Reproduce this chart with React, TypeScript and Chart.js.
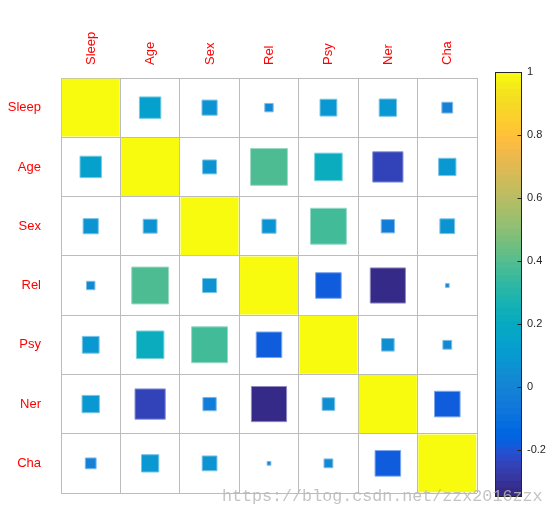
import React, { useEffect, useRef } from "react";
import { Chart, registerables } from "chart.js";

Chart.register(...registerables);

// ---- data ----
const variables = ["Sleep", "Age", "Sex", "Rel", "Psy", "Ner", "Cha"];
const sleepRow = [1, 0.13, 0.065, 0.02, 0.08, 0.085, -0.033];
const ageRow = [0.13, 1, 0.055, 0.385, 0.215, -0.26, 0.085];
const sexRow = [0.065, 0.055, 1, 0.056, 0.365, -0.05, 0.062];
const relRow = [0.02, 0.385, 0.056, 1, -0.185, -0.35, 0.004];
const psyRow = [0.08, 0.215, 0.365, -0.185, 1, 0.045, 0.022];
const nerRow = [0.085, -0.26, -0.05, -0.35, 0.045, 1, -0.185];
const chaRow = [-0.033, 0.085, 0.062, 0.004, 0.022, -0.185, 1];
const colorbarTicks = [-0.2, 0, 0.2, 0.4, 0.6, 0.8, 1];
const colorMin = -0.35;
const colorMax = 1;
const watermark = "https://blog.csdn.net/zzx2016zzx";

// MATLAB parula colormap (64 entries)
const PARULA: number[][] = [
  [0.2081, 0.1663, 0.5292], [0.2116, 0.1898, 0.5777], [0.2123, 0.2138, 0.627], [0.2081, 0.2386, 0.6771],
  [0.1959, 0.2645, 0.7279], [0.1707, 0.2919, 0.7792], [0.1253, 0.3242, 0.8303], [0.0591, 0.3598, 0.8683],
  [0.0117, 0.3875, 0.882], [0.006, 0.4086, 0.8828], [0.0165, 0.4266, 0.8786], [0.0329, 0.443, 0.872],
  [0.0498, 0.4586, 0.8641], [0.0629, 0.4737, 0.8554], [0.0723, 0.4887, 0.8467], [0.0779, 0.504, 0.8384],
  [0.0793, 0.52, 0.8312], [0.0749, 0.5375, 0.8263], [0.0641, 0.557, 0.824], [0.0488, 0.5772, 0.8228],
  [0.0343, 0.5966, 0.8199], [0.0265, 0.6137, 0.8135], [0.0239, 0.6287, 0.8038], [0.0231, 0.6418, 0.7913],
  [0.0228, 0.6535, 0.7768], [0.0267, 0.6642, 0.7607], [0.0384, 0.6743, 0.7436], [0.059, 0.6838, 0.7254],
  [0.0843, 0.6928, 0.7062], [0.1133, 0.7015, 0.6859], [0.1453, 0.7098, 0.6646], [0.1801, 0.7177, 0.6424],
  [0.2178, 0.725, 0.6193], [0.2586, 0.7317, 0.5954], [0.3022, 0.7376, 0.5712], [0.3482, 0.7424, 0.5473],
  [0.3953, 0.7459, 0.5244], [0.442, 0.7481, 0.5033], [0.4871, 0.7491, 0.484], [0.53, 0.7491, 0.4661],
  [0.5709, 0.7485, 0.4494], [0.6099, 0.7473, 0.4337], [0.6473, 0.7456, 0.4188], [0.6834, 0.7435, 0.4044],
  [0.7184, 0.7411, 0.3905], [0.7525, 0.7384, 0.3768], [0.7858, 0.7356, 0.3633], [0.8185, 0.7327, 0.3498],
  [0.8507, 0.7299, 0.336], [0.8824, 0.7274, 0.3217], [0.9139, 0.7258, 0.3063], [0.945, 0.7261, 0.2886],
  [0.9739, 0.7314, 0.2666], [0.9938, 0.7455, 0.2403], [0.999, 0.7653, 0.2164], [0.9955, 0.7861, 0.1967],
  [0.988, 0.8066, 0.1794], [0.9789, 0.8271, 0.1633], [0.9697, 0.8481, 0.1475], [0.9626, 0.8705, 0.1309],
  [0.9589, 0.8949, 0.1132], [0.9598, 0.9218, 0.0948], [0.9661, 0.9514, 0.0755], [0.9763, 0.9831, 0.0538],
];

const rgb = (c: number[], mixWhite = 0) =>
  `rgb(${c.map((x) => Math.round((x * (1 - mixWhite) + mixWhite) * 255)).join(",")})`;

const colorIndex = (v: number) =>
  Math.max(0, Math.min(63, Math.floor(((v - colorMin) / (colorMax - colorMin)) * 64)));

const FONT = "'Liberation Sans', Arial, sans-serif";
const GRID = "#bcbcbc";
const AXIS_DARK = "#262626";

export default function App() {
  const mainRef = useRef<HTMLCanvasElement>(null);
  const barRef = useRef<HTMLCanvasElement>(null);

  useEffect(() => {
    const rows = [sleepRow, ageRow, sexRow, relRow, psyRow, nerRow, chaRow];
    const points: { x: number; y: number; v: number }[] = [];
    rows.forEach((row, i) => row.forEach((v, j) => points.push({ x: j, y: i, v })));

    const halfTicks = (scale: any) => {
      const t: { value: number }[] = [];
      for (let k = -1; k <= 13; k++) t.push({ value: k / 2 });
      scale.ticks = t;
    };
    const labelCb = (value: any) => {
      const v = Number(value);
      return Number.isInteger(v) ? variables[v] : "";
    };
    const gridColor = (ctx: any) =>
      ctx.tick && !Number.isInteger(ctx.tick.value) ? GRID : "rgba(0,0,0,0)";

    const cellSide = (chart: any) => {
      const xs = chart.scales.x;
      return Math.abs(xs.getPixelForValue(1) - xs.getPixelForValue(0));
    };

    const main = new Chart(mainRef.current!, {
      type: "scatter",
      data: {
        datasets: [
          {
            data: points as any,
            pointStyle: "rect",
            radius: (ctx: any) => {
              const raw = ctx.raw;
              if (!raw || !ctx.chart.chartArea) return 0;
              const cell = cellSide(ctx.chart);
              const side = raw.x === raw.y ? cell - 1.5 : cell * Math.sqrt(Math.abs(raw.v));
              return side / Math.SQRT2;
            },
            backgroundColor: (ctx: any) => (ctx.raw ? rgb(PARULA[colorIndex(ctx.raw.v)]) : "#000"),
            borderColor: (ctx: any) => (ctx.raw ? rgb(PARULA[colorIndex(ctx.raw.v)], 0.45) : "#000"),
            borderWidth: (ctx: any) => (ctx.raw && ctx.raw.x !== ctx.raw.y ? 1 : 0),
          } as any,
        ],
      },
      options: {
        animation: false,
        responsive: false,
        events: [],
        layout: { padding: { left: 0, top: 0, right: 77, bottom: 24 } },
        plugins: { legend: { display: false }, tooltip: { enabled: false } },
        scales: {
          x: {
            type: "linear",
            position: "top",
            min: -0.5,
            max: 6.5,
            afterBuildTicks: halfTicks,
            afterFit: (s: any) => {
              s.height = 78;
              s.paddingLeft = 0;
              s.paddingRight = 0;
            },
            ticks: {
              autoSkip: false,
              minRotation: 90,
              maxRotation: 90,
              padding: 13,
              labelOffset: 16,
              color: "red",
              font: { family: FONT, size: 13 },
              callback: labelCb,
            },
            grid: { color: gridColor, drawTicks: false, lineWidth: 1 },
            border: { display: false },
          },
          y: {
            type: "linear",
            position: "left",
            min: -0.5,
            max: 6.5,
            reverse: true,
            afterBuildTicks: halfTicks,
            afterFit: (s: any) => {
              s.width = 61;
              s.paddingTop = 0;
              s.paddingBottom = 0;
            },
            ticks: {
              autoSkip: false,
              padding: 20,
              color: "red",
              font: { family: FONT, size: 13 },
              callback: labelCb,
            },
            grid: { color: gridColor, drawTicks: false, lineWidth: 1 },
            border: { display: false },
          },
        },
      } as any,
    });

    const nBands = PARULA.length;
    const step = (colorMax - colorMin) / nBands;
    const bands = PARULA.map((c, i) => ({
      data: [[colorMin + i * step, colorMin + (i + 1.35) * step]],
      backgroundColor: rgb(c),
      borderWidth: 0,
      grouped: false,
      barPercentage: 1,
      categoryPercentage: 1,
    }));

    const frame = {
      id: "frame",
      afterDatasetsDraw(chart: any) {
        const a = chart.chartArea;
        const ctx = chart.ctx;
        const ys = chart.scales.y;
        ctx.save();
        ctx.strokeStyle = AXIS_DARK;
        ctx.lineWidth = 1;
        const l = Math.round(a.left) + 0.5;
        const r = Math.round(a.right) - 0.5;
        ctx.strokeRect(l, Math.round(a.top) + 0.5, r - l, Math.round(a.bottom - a.top) - 1);
        ctx.beginPath();
        ys.ticks.forEach((t: any) => {
          const y = Math.round(ys.getPixelForValue(t.value)) + 0.5;
          ctx.moveTo(r - 4, y);
          ctx.lineTo(r, y);
        });
        ctx.stroke();
        ctx.restore();
      },
    };

    const bar = new Chart(barRef.current!, {
      type: "bar",
      data: { labels: [""], datasets: bands as any },
      options: {
        animation: false,
        responsive: false,
        events: [],
        layout: { padding: { left: 5, top: 72, right: 0, bottom: 20 } },
        plugins: { legend: { display: false }, tooltip: { enabled: false } },
        scales: {
          x: { display: false },
          y: {
            position: "right",
            min: colorMin,
            max: colorMax,
            afterBuildTicks: (s: any) => {
              s.ticks = colorbarTicks.map((v) => ({ value: v }));
            },
            afterFit: (s: any) => {
              s.width = 32;
              s.paddingTop = 0;
              s.paddingBottom = 0;
            },
            ticks: {
              padding: 5,
              color: AXIS_DARK,
              font: { family: FONT, size: 11 },
              callback: (v: any) => String(v),
            },
            grid: { drawOnChartArea: false, drawTicks: false },
            border: { display: false },
          },
        },
      } as any,
      plugins: [frame],
    });

    return () => {
      main.destroy();
      bar.destroy();
    };
  }, []);

  return (
    <div style={{ position: "absolute", left: 0, top: 0, width: 554, height: 517, background: "#fff" }}>
      <canvas ref={mainRef} width={554} height={517} style={{ position: "absolute", left: 0, top: 0 }} />
      <canvas ref={barRef} width={64} height={517} style={{ position: "absolute", left: 490, top: 0 }} />
      <div
        style={{
          position: "absolute",
          left: 222,
          top: 487,
          fontFamily: "'Liberation Mono', 'DejaVu Sans Mono', monospace",
          fontSize: 16.7,
          lineHeight: "20px",
          color: "rgba(185,185,185,0.85)",
          whiteSpace: "nowrap",
          pointerEvents: "none",
        }}
      >
        {watermark}
      </div>
    </div>
  );
}
